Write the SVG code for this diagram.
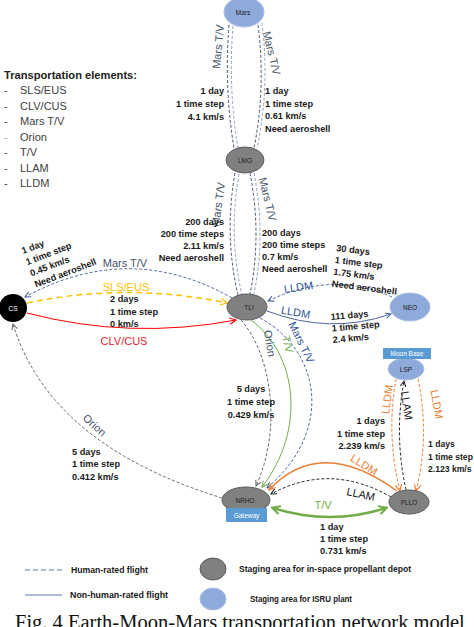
<svg xmlns="http://www.w3.org/2000/svg" width="474" height="627" viewBox="0 0 474 627">
<defs>
<style>
.t{font-family:'Liberation Sans',Arial,sans-serif;font-weight:bold;font-size:9.2px;fill:#1a1a1a}
.lg{font-family:'Liberation Sans',Arial,sans-serif;font-size:11px;fill:#404040}
.nl{font-family:'Liberation Sans',Arial,sans-serif;font-size:6.5px;fill:#222;text-anchor:middle}
.wl{font-family:'Liberation Sans',Arial,sans-serif;font-size:6.5px;fill:#fff;text-anchor:middle}
.el{font-family:'Liberation Sans',Arial,sans-serif;font-size:11px;text-anchor:middle}
.gray{fill:#808080;stroke:#5a5a5a;stroke-width:1}
.blue{fill:#8eaadb;stroke:#a9bfe6;stroke-width:1}
.e{fill:none}
.d{stroke-dasharray:3 2}
.mtv{stroke:#44546a}
.mtv2{stroke:#8fa2c2}
.bl{stroke:#4a66a0}
.gy{stroke:#666}
.or{stroke:#ed7d31}
.gr{stroke:#70ad47}
</style>
<marker id="aB" viewBox="0 0 10 10" refX="9" refY="5" markerWidth="7" markerHeight="7" markerUnits="userSpaceOnUse" orient="auto"><path d="M1,1 L9,5 L1,9" fill="none" stroke="#4a66a0" stroke-width="1.5"/></marker>
<marker id="aG" viewBox="0 0 10 10" refX="9" refY="5" markerWidth="7" markerHeight="7" markerUnits="userSpaceOnUse" orient="auto"><path d="M1,1 L9,5 L1,9" fill="none" stroke="#666" stroke-width="1.5"/></marker>
<marker id="aY" viewBox="0 0 10 10" refX="9" refY="5" markerWidth="8" markerHeight="8" markerUnits="userSpaceOnUse" orient="auto"><path d="M1,1 L9,5 L1,9" fill="none" stroke="#ffc000" stroke-width="1.5"/></marker>
<marker id="aR" viewBox="0 0 10 10" refX="9" refY="5" markerWidth="8" markerHeight="8" markerUnits="userSpaceOnUse" orient="auto"><path d="M1,1 L9,5 L1,9" fill="none" stroke="#ff0000" stroke-width="1.5"/></marker>
<marker id="aGr" viewBox="0 0 10 10" refX="9" refY="5" markerWidth="7" markerHeight="7" markerUnits="userSpaceOnUse" orient="auto"><path d="M1,1 L9,5 L1,9" fill="none" stroke="#70ad47" stroke-width="1.5"/></marker>
<marker id="aGr2" viewBox="0 0 10 10" refX="8" refY="5" markerWidth="10" markerHeight="10" markerUnits="userSpaceOnUse" orient="auto-start-reverse"><path d="M1,1 L9,5 L1,9" fill="none" stroke="#70ad47" stroke-width="2"/></marker>
<marker id="aO" viewBox="0 0 10 10" refX="9" refY="5" markerWidth="8" markerHeight="8" markerUnits="userSpaceOnUse" orient="auto"><path d="M1,1 L9,5 L1,9" fill="none" stroke="#ed7d31" stroke-width="1.5"/></marker>
<marker id="aK" viewBox="0 0 10 10" refX="9" refY="5" markerWidth="7" markerHeight="7" markerUnits="userSpaceOnUse" orient="auto"><path d="M1,1 L9,5 L1,9" fill="none" stroke="#222" stroke-width="1.5"/></marker>
</defs>
<rect width="474" height="627" fill="#fff"/>

<g id="connectors" stroke-width="1">
  <path class="e d mtv" d="M229,25 Q224,88 234,148"/>
  <path class="e d mtv2" d="M233,26 Q228,88 238,148"/>
  <path class="e d mtv" d="M258,25 Q266,88 254,148"/>
  <path class="e d mtv2" d="M262,23 Q270,88 257,148"/>
  <path class="e d mtv" d="M235,173 Q224,235 238,295"/>
  <path class="e d mtv2" d="M239,174 Q228,235 242,295"/>
  <path class="e d mtv" d="M250,173 Q262,235 250,294"/>
  <path class="e d mtv2" d="M254,173 Q266,235 254,294"/>
  <path class="e d bl" d="M232,298 Q130,240 25,297" marker-end="url(#aB)"/>
  <path class="e" stroke="#ffc000" style="stroke-width:1.5" stroke-dasharray="6 4" d="M27,303 Q127,282 227,303" marker-end="url(#aY)"/>
  <path class="e" stroke="#ff0000" d="M27,313 Q130,340 236,320" marker-end="url(#aR)"/>
  <path class="e d gy" d="M222,498 Q50,445 13,324" marker-end="url(#aG)"/>
  <path class="e d bl" d="M392,297 Q333,270 268,301" marker-end="url(#aB)"/>
  <path class="e bl" d="M267,311 Q330,335 391,314" marker-end="url(#aB)"/>
  <path class="e d gy" d="M241,320 C272,355 282,430 256,486" marker-end="url(#aG)"/>
  <path class="e gr" d="M251,320 C298,355 306,430 262,487" marker-end="url(#aGr)"/>
  <path class="e d bl" d="M260,318 C320,350 335,430 267,488" marker-end="url(#aB)"/>
  <path class="e d or" d="M396,379 Q386,435 400,491" marker-end="url(#aO)"/>
  <path class="e d" stroke="#222" d="M406,490 Q394,435 404,381" marker-end="url(#aK)"/>
  <path class="e d or" d="M418,379 Q430,435 416,491" marker-end="url(#aO)"/>
  <path class="e or" style="stroke-width:1.5" d="M397,491 Q320,435 269,490" marker-end="url(#aO)"/>
  <path class="e d" stroke="#222" d="M391,497 Q330,462 271,494" marker-end="url(#aK)"/>
  <path class="e gr" style="stroke-width:2.5" d="M273,508 Q330,526 386,508" marker-start="url(#aGr2)" marker-end="url(#aGr2)"/>
</g>

<g id="edge-labels">
  <text class="el" fill="#44546a" transform="translate(222,47) rotate(-85)">Mars T/V</text>
  <text class="el" fill="#44546a" transform="translate(268,54) rotate(76)">Mars T/V</text>
  <text class="el" fill="#44546a" transform="translate(222,205) rotate(-82)">Mars T/V</text>
  <text class="el" fill="#44546a" transform="translate(264,200) rotate(76)">Mars T/V</text>
  <text class="el" fill="#44546a" x="125" y="267">Mars T/V</text>
  <text class="el" fill="#ffc000" x="126" y="291">SLS/EUS</text>
  <text class="el" fill="#e8242b" x="124" y="345">CLV/CUS</text>
  <text class="el" fill="#44546a" transform="translate(92,428) rotate(42)">Orion</text>
  <text class="el" fill="#2f5597" transform="translate(299,291) rotate(-8)">LLDM</text>
  <text class="el" fill="#2f5597" transform="translate(295,316) rotate(10)">LLDM</text>
  <text class="el" fill="#44546a" transform="translate(266,344) rotate(80)">Orion</text>
  <text class="el" fill="#70ad47" transform="translate(284,345) rotate(78)">T/V</text>
  <text class="el" fill="#2f5597" transform="translate(298,344) rotate(64)">Mars T/V</text>
  <text class="el" fill="#ed7d31" transform="translate(391,400) rotate(-82)">LLDM</text>
  <text class="el" fill="#222" transform="translate(403,406) rotate(82)">LLAM</text>
  <text class="el" fill="#ed7d31" transform="translate(433,405) rotate(80)">LLDM</text>
  <text class="el" fill="#ed7d31" transform="translate(362,468) rotate(32)">LLDM</text>
  <text class="el" fill="#222" transform="translate(360,498) rotate(12)">LLAM</text>
  <text class="el" fill="#70ad47" font-size="13" x="323" y="509">T/V</text>

  <g class="t" text-anchor="end">
    <text x="224" y="94">1 day</text><text x="224" y="107">1 time step</text><text x="224" y="120">4.1 km/s</text>
    <text x="224" y="225">200 days</text><text x="224" y="237">200 time steps</text><text x="224" y="249">2.11 km/s</text><text x="224" y="261">Need aeroshell</text>
    <text x="385" y="424">1 days</text><text x="385" y="437">1 time step</text><text x="385" y="449">2.239 km/s</text>
  </g>
  <g class="t">
    <text x="265" y="94">1 day</text><text x="265" y="106.5">1 time step</text><text x="265" y="119">0.61 km/s</text><text x="265" y="131.5">Need aeroshell</text>
    <text x="262" y="236">200 days</text><text x="262" y="248">200 time steps</text><text x="262" y="260">0.7 km/s</text><text x="262" y="272">Need aeroshell</text>
    <g transform="translate(23,254) rotate(-21)"><text x="0" y="0">1 day</text><text x="0" y="12">1 time step</text><text x="0" y="24">0.45 km/s</text><text x="0" y="36">Need aeroshell</text></g>
    <text x="110" y="302">2 days</text><text x="110" y="315">1 time step</text><text x="110" y="327">0 km/s</text>
    <text x="72" y="455">5 days</text><text x="72" y="467">1 time step</text><text x="72" y="480">0.412 km/s</text>
    <g transform="translate(336,251) rotate(7)"><text x="0" y="0">30 days</text><text x="0" y="12">1 time step</text><text x="0" y="24">1.75 km/s</text><text x="0" y="36">Need aeroshell</text></g>
    <g transform="translate(331,320) rotate(-5)"><text x="0" y="0">111 days</text><text x="0" y="11.5">1 time step</text><text x="0" y="23">2.4 km/s</text></g>
    <g style="font-size:8.6px"><text x="428" y="447">1 days</text><text x="428" y="460">1 time step</text><text x="428" y="472">2.123 km/s</text></g>
    <text x="320" y="530">1 day</text><text x="320" y="542">1 time step</text><text x="320" y="554">0.731 km/s</text>
  </g>
  <g class="t" text-anchor="middle">
    <text x="251" y="392">5 days</text><text x="251" y="405">1 time step</text><text x="251" y="418">0.429 km/s</text>
  </g>
</g>

<g id="Mars"><ellipse class="blue" cx="244" cy="12" rx="20" ry="15"/><text class="nl" x="243" y="15">Mars</text></g>
<g id="LMO"><ellipse class="gray" cx="245" cy="160" rx="19" ry="13"/><text class="nl" x="245" y="163">LMO</text></g>
<g id="TLI"><ellipse class="gray" cx="247" cy="307" rx="20" ry="13"/><text class="nl" x="249" y="310">TLI</text></g>
<g id="CS"><circle cx="13" cy="308" r="14" fill="#000"/><text class="wl" x="13" y="311">CS</text></g>
<g id="NEO"><ellipse class="blue" cx="410" cy="307" rx="20" ry="14"/><text class="nl" x="410" y="310">NEO</text></g>
<g id="LSP"><ellipse class="blue" cx="406" cy="369" rx="18" ry="11"/><text class="nl" x="406" y="372">LSP</text><rect x="383" y="348" width="48" height="11" fill="#5b9bd5"/><text class="wl" x="407" y="356">Moon Base</text></g>
<g id="NRHO"><ellipse class="gray" cx="246" cy="500" rx="24" ry="13"/><rect x="226" y="508" width="41" height="14" fill="#5b9bd5"/><text class="nl" x="245" y="503">NRHO</text><text class="wl" x="246.5" y="518">Gateway</text></g>
<g id="PLLO"><ellipse class="gray" cx="409" cy="502" rx="20" ry="12"/><text class="nl" x="409" y="505">PLLO</text></g>

<g id="legend">
  <text class="lg" x="4" y="79" style="font-weight:bold;fill:#222" textLength="133" lengthAdjust="spacingAndGlyphs">Transportation elements:</text>
  <g class="lg">
    <text x="4" y="94">-</text><text x="20" y="94">SLS/EUS</text>
    <text x="4" y="109.5">-</text><text x="20" y="109.5">CLV/CUS</text>
    <text x="4" y="125">-</text><text x="20" y="125">Mars T/V</text>
    <text x="4" y="140.5" style="fill:#aaa">-</text><text x="20" y="140.5">Orion</text>
    <text x="4" y="156">-</text><text x="20" y="156">T/V</text>
    <text x="4" y="171.5">-</text><text x="20" y="171.5">LLAM</text>
    <text x="4" y="187">-</text><text x="20" y="187">LLDM</text>
  </g>
  <line x1="25" y1="570" x2="62" y2="570" stroke="#5b7bb5" stroke-width="1.2" stroke-dasharray="5 3"/>
  <text class="t" x="71" y="573" textLength="77" lengthAdjust="spacingAndGlyphs">Human-rated flight</text>
  <line x1="25" y1="595" x2="62" y2="595" stroke="#5b7bb5" stroke-width="1.2"/>
  <text class="t" x="70" y="598" textLength="98" lengthAdjust="spacingAndGlyphs">Non-human-rated flight</text>
  <ellipse class="gray" cx="213" cy="569" rx="13" ry="11"/>
  <ellipse class="blue" cx="213" cy="599" rx="13" ry="11"/>
  <text class="t" x="239" y="572" textLength="172" lengthAdjust="spacingAndGlyphs">Staging area for in-space propellant depot</text>
  <text class="t" x="250" y="602" textLength="102" lengthAdjust="spacingAndGlyphs">Staging area for ISRU plant</text>
</g>
<text x="15" y="629" font-family="'Liberation Serif','Times New Roman',serif" font-size="20.5" fill="#111">Fig. 4 Earth-Moon-Mars transportation network model</text>
</svg>
